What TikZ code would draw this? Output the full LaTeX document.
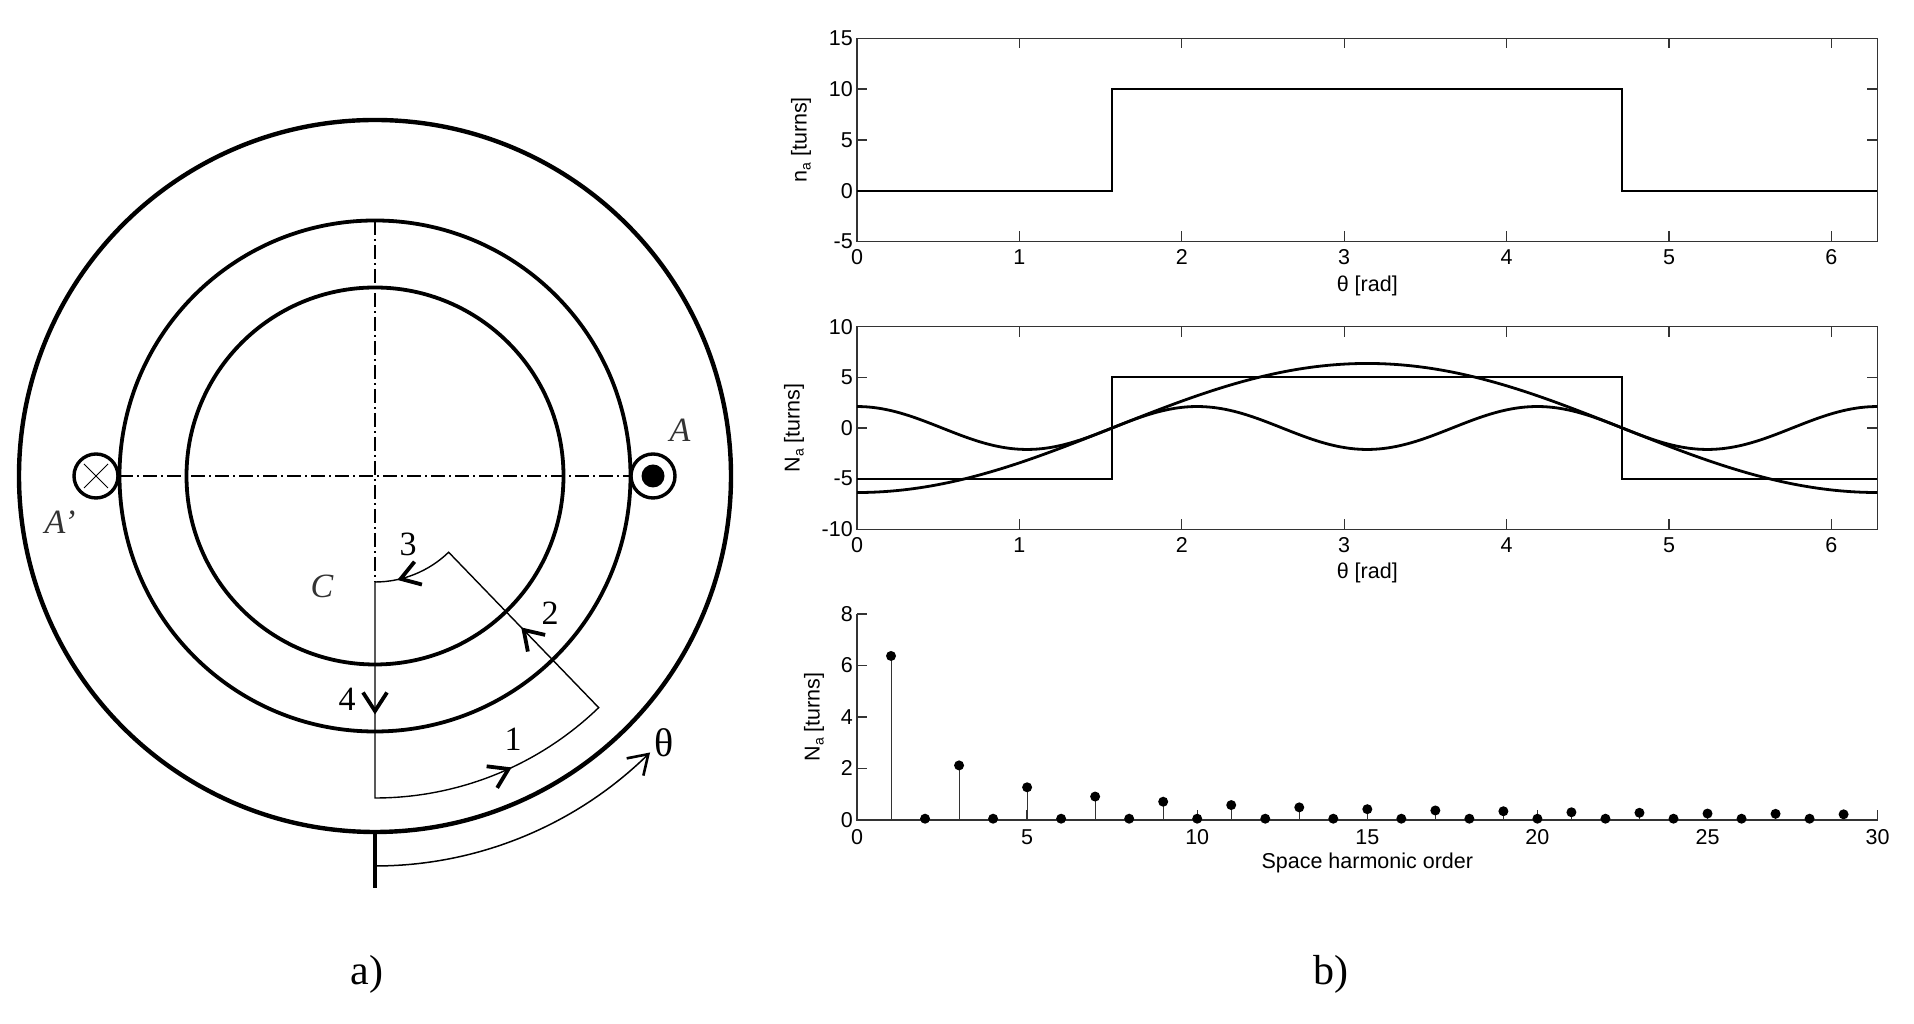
\documentclass[tikz,border=0pt]{standalone}
\usepackage{fontspec}
\setmainfont{Liberation Serif}
\newfontfamily\plotfont{Liberation Sans}
\usetikzlibrary{calc}
\newcommand{\suba}{\raisebox{-4pt}{\fontsize{14}{14}\selectfont a}}
\tikzset{
  ring/.style={line width=3.8pt},
  axisline/.style={line width=2.8pt,dash pattern=on 14pt off 4pt on 2pt off 4pt},
  wire/.style={line width=1.4pt},
  chevron/.pic={\draw[line width=3.8pt,line join=miter] (-18.5,12) -- (0,0) -- (-18.5,-12);},
  thinchevron/.pic={\draw[line width=2.6pt,line join=miter] (-18.5,12) -- (0,0) -- (-18.5,-12);},
  lab/.style={font=\fontsize{34}{36}\selectfont,inner sep=0pt},
  ilab/.style={font=\fontsize{34}{36}\selectfont\itshape,inner sep=0pt,text=black!80},
  frame/.style={line width=1.3pt,black!80},
  curve/.style={line width=2.2pt,line join=miter},
  wave/.style={line width=2.8pt},
  stem/.style={line width=0.9pt,black!80},
  tick/.style={font=\plotfont\fontsize{21.5}{23}\selectfont,inner sep=0pt},
  conductor/.style={circle,draw,fill=white,line width=3.4pt,minimum size=44pt,inner sep=0pt}
}
\begin{document}
\begin{tikzpicture}[x=1pt,y=1pt]
  \useasboundingbox (0,0) rectangle (1914,1024);
  \coordinate (c) at (375,548);
  % machine
  \draw[line width=4.4pt] (c) circle(356);
  \draw[ring] (c) circle(255.5);
  \draw[ring] (c) circle(188.5);
  \draw[line width=4.8pt] (c)+(0,-356) -- +(0,-412);
  % axes of symmetry
  \coordinate (w3) at ($(c)+(270:106)$);
  \draw[axisline] (375,803) -- (w3);
  \draw[line width=1.6pt,dash pattern=on 14pt off 4pt on 2pt off 4pt] (119,548) -- (631,548);
  % conductors
  \node[conductor] (Aprime) at (96,548) {};
  \node[conductor] (Aplus) at (653,548) {};
  \fill (Aplus) circle(11.5);
  \draw[line width=1pt] ($(Aprime)+(-12,12)$) -- ($(Aprime)+(12,-12)$);
  \draw[line width=1pt] ($(Aprime)+(-12,-12)$) -- ($(Aprime)+(12,12)$);
  \node[ilab] (Alab) at (680,594) {A};
  \node[ilab] (Aplab) at (60,502) {A’};
  \node[ilab] (Clab) at (322,438) {C};
  % integration path
  \coordinate (w0) at ($(c)+(270:322)$);
  \coordinate (w1) at ($(c)+(314:322)$);
  \coordinate (w2) at ($(c)+(314:106)$);
  \draw[wire] (w0) arc[start angle=270,end angle=314,radius=322] -- (w2)
    arc[start angle=314,end angle=270,radius=106] -- cycle;
  \pic[rotate=26] at ($(c)+(294.5:322)$) {chevron};
  \pic[rotate=134] at ($(c)+(314:214)$) {chevron};
  \pic[rotate=198] at ($(c)+(284:106)$) {chevron};
  \pic[rotate=-90] at (375,313) {chevron};
  \node[lab] (one) at (513,285) {1};
  \node[lab] (two) at (550,411) {2};
  \node[lab] (three) at (408,480) {3};
  \node[lab] (four) at (347,325) {4};
  % angle
  \coordinate (th0) at ($(c)+(270.3:390)$);
  \draw[line width=1.5pt] (th0) arc[start angle=270.3,end angle=314.5,radius=390];
  \pic[rotate=44] at ($(c)+(314.5:390)$) {thinchevron};
  \node[font=\fontsize{40}{42}\selectfont,inner sep=0pt] (thlab) at (664,281) {θ};
  \node[font=\fontsize{42}{44}\selectfont,inner sep=0pt] (alab) at (367,50) {a)};
  \node[font=\fontsize{42}{44}\selectfont,inner sep=0pt] (blab) at (1331,50) {b)};

  % turns
  \begin{scope}[shift={(857,833.3)},x=162.4pt,y=10.16pt]
    \draw[frame] (0,-5) rectangle (6.2832,15);
    \foreach \t in {0,...,6} {
      \draw[frame] (\t,-5) -- ++(0,10pt);
      \draw[frame] (\t,15) -- ++(0,-10pt);
      \node[tick] (xa\t) at ([yshift=-15.5pt]\t,-5) {\t};
    }
    \foreach \t in {-5,0,5,10,15} {
      \draw[frame] (0,\t) -- ++(10pt,0);
      \draw[frame] (6.2832,\t) -- ++(-10pt,0);
      \node[tick,anchor=east] (ya\t) at ([xshift=-4pt]0,\t) {\t};
    }
    \draw[curve] (0,0) -- (1.5708,0) -- (1.5708,10) -- (4.7124,10) -- (4.7124,0) -- (6.2832,0);
    \node[tick] (xlaba) at (3.142,-9.35) {θ [rad]};
    \node[tick,rotate=90] (ylaba) at ([xshift=-56pt]0,5) {n\suba{} [turns]};
  \end{scope}

  % winding function
  \begin{scope}[shift={(857,596)},x=162.4pt,y=10.13pt]
    \draw[frame] (0,-10) rectangle (6.2832,10);
    \foreach \t in {0,...,6} {
      \draw[frame] (\t,-10) -- ++(0,10pt);
      \draw[frame] (\t,10) -- ++(0,-10pt);
      \node[tick] (xb\t) at ([yshift=-16pt]\t,-10) {\t};
    }
    \foreach \t in {-10,-5,0,5,10} {
      \draw[frame] (0,\t) -- ++(10pt,0);
      \draw[frame] (6.2832,\t) -- ++(-10pt,0);
      \node[tick,anchor=east] (yb\t) at ([xshift=-4pt]0,\t) {\t};
    }
    \draw[curve] (0,-5) -- (1.5708,-5) -- (1.5708,5) -- (4.7124,5) -- (4.7124,-5) -- (6.2832,-5);
    \draw[wave] plot[domain=0:6.2832,samples=120,smooth] (\x,{-6.37*cos(\x r)});
    \draw[wave] plot[domain=0:6.2832,samples=120,smooth] (\x,{2.12*cos(3*\x r)});
    \node[tick] (xlabb) at (3.142,-14.35) {θ [rad]};
    \node[tick,rotate=90] (ylabb) at ([xshift=-63pt]0,0) {N\suba{} [turns]};
  \end{scope}

  % harmonics
  \begin{scope}[shift={(857,204)},x=34.02pt,y=25.75pt]
    \draw[frame] (0,8) -- (0,0) -- (30,0);
    \foreach \t in {0,5,...,30} {
      \draw[frame] (\t,0) -- ++(0,10pt);
      \node[tick] (xc\t) at ([yshift=-17pt]\t,0) {\t};
    }
    \foreach \t in {0,2,4,6,8} {
      \draw[frame] (0,\t) -- ++(10pt,0);
      \node[tick,anchor=east] (yc\t) at ([xshift=-4pt]0,\t) {\t};
    }
    \foreach \n/\v in {1/6.37,3/2.12,5/1.27,7/0.91,9/0.71,11/0.58,13/0.49,15/0.42,17/0.37,19/0.34,21/0.30,23/0.28,25/0.25,27/0.24,29/0.22} {
      \draw[stem] (\n,0) -- (\n,\v);
      \fill (\n,\v) circle[radius=5pt];
    }
    \foreach \n in {2,4,...,28}
      \fill (\n,0.05) circle[radius=5pt];
    \node[tick] (xlabc) at (15,-1.67) {Space harmonic order};
    \node[tick,rotate=90] (ylabc) at ([xshift=-43pt]0,4) {N\suba{} [turns]};
  \end{scope}
\end{tikzpicture}
\end{document}
